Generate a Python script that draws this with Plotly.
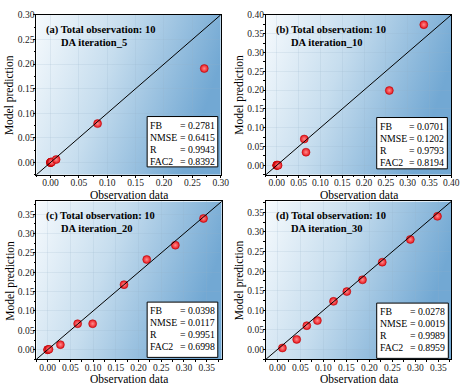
import base64
import plotly.graph_objects as go

W, H = 474, 387
FONT = "Liberation Serif"

# ---------------- data ----------------
panel_labels = ["(a)", "(b)", "(c)", "(d)"]
iteration_labels = ["DA iteration_5", "DA iteration_10", "DA iteration_20", "DA iteration_30"]
total_obs = [10, 10, 10, 10]

obs_a = [0.0, 0.0, 0.0, 0.0, 0.001, 0.001, 0.002, 0.010, 0.083, 0.271]
pred_a = [0.0, 0.0, 0.0, 0.0, 0.0, 0.001, 0.001, 0.006, 0.079, 0.191]

obs_b = [0.0, 0.0, 0.0, 0.001, 0.002, 0.003, 0.063, 0.067, 0.258, 0.337]
pred_b = [0.0, 0.0, 0.0, 0.0, 0.001, 0.0, 0.070, 0.035, 0.199, 0.374]

obs_c = [0.0, 0.0, 0.003, 0.028, 0.066, 0.099, 0.168, 0.218, 0.281, 0.343]
pred_c = [0.0, 0.0, 0.001, 0.013, 0.067, 0.067, 0.168, 0.233, 0.270, 0.339]

obs_d = [0.011, 0.042, 0.064, 0.087, 0.122, 0.151, 0.185, 0.228, 0.289, 0.348]
pred_d = [0.004, 0.026, 0.061, 0.074, 0.123, 0.148, 0.178, 0.223, 0.281, 0.340]

stat_names = ["FB", "NMSE", "R", "FAC2"]
stats_a = [0.2781, 0.6415, 0.9943, 0.8392]
stats_b = [0.0701, 0.1202, 0.9793, 0.8194]
stats_c = [0.0398, 0.0117, 0.9951, 0.6998]
stats_d = [0.0278, 0.0019, 0.9989, 0.8959]

ticks_a = [0.00, 0.05, 0.10, 0.15, 0.20, 0.25, 0.30]
ticks_b = [0.00, 0.05, 0.10, 0.15, 0.20, 0.25, 0.30, 0.35, 0.40]
ticks_c = [0.00, 0.05, 0.10, 0.15, 0.20, 0.25, 0.30, 0.35]
ticks_d = [0.00, 0.05, 0.10, 0.15, 0.20, 0.25, 0.30, 0.35]

# ---------------- layout constants ----------------
panels = [
    dict(obs=obs_a, pred=pred_a, stats=stats_a, ticks=ticks_a, rng=[-0.025, 0.30],
         px=(37, 10, 225, 172), box=(3, 8, 72, 51)),
    dict(obs=obs_b, pred=pred_b, stats=stats_b, ticks=ticks_b, rng=[-0.025, 0.40],
         px=(271, 10, 460, 172), box=(4, 6, 72, 52)),
    dict(obs=obs_c, pred=pred_c, stats=stats_c, ticks=ticks_c, rng=[-0.025, 0.383],
         px=(37, 199, 226, 359), box=(4, 2, 72, 56)),
    dict(obs=obs_d, pred=pred_d, stats=stats_d, ticks=ticks_d, rng=[-0.025, 0.378],
         px=(271, 199, 460, 359), box=(3, 1, 73, 56)),
]

svg = ('<svg xmlns="http://www.w3.org/2000/svg" width="200" height="200" '
       'viewBox="0 0 200 200" preserveAspectRatio="none">'
       '<defs><linearGradient id="g" x1="0" y1="0" x2="1" y2="0.3">'
       '<stop offset="0" stop-color="#f6fafd"/>'
       '<stop offset="0.45" stop-color="#c6ddee"/>'
       '<stop offset="1" stop-color="#72a8d3"/>'
       '</linearGradient></defs>'
       '<rect width="200" height="200" fill="url(#g)"/></svg>')
bg_src = "data:image/svg+xml;base64," + base64.b64encode(svg.encode()).decode()

fig = go.Figure()
layout = dict(width=W, height=H, margin=dict(l=0, r=0, t=0, b=0),
              paper_bgcolor="white", plot_bgcolor="white", showlegend=False,
              font=dict(family=FONT, color="black"))
annotations, shapes, images = [], [], []

for i, p in enumerate(panels):
    n = "" if i == 0 else str(i + 1)
    xa, ya = "x" + n, "y" + n
    l, t, r, b = p["px"]
    pw, ph = r - l, b - t
    ax_common = dict(range=p["rng"], tickvals=p["ticks"],
                     ticktext=[f"{v:.2f}" for v in p["ticks"]],
                     showline=True, linecolor="black", linewidth=1, mirror=True,
                     ticks="outside", ticklen=2, tickwidth=1, tickcolor="black",
                     ticklabelstandoff=-3,
                     minor=dict(ticks="outside", ticklen=1.5, tickcolor="black",
                                dtick=0.025, showgrid=False),
                     showgrid=True, gridcolor="rgba(150,175,200,0.18)", gridwidth=1,
                     zeroline=False, tickfont=dict(family=FONT, size=9.5, color="#222"),
                     fixedrange=True)
    layout["xaxis" + n] = dict(domain=[l / W, r / W], anchor=ya, **ax_common)
    layout["yaxis" + n] = dict(domain=[1 - b / H, 1 - t / H], anchor=xa, **ax_common)

    images.append(dict(source=bg_src, xref=xa + " domain", yref=ya + " domain",
                       x=0, y=1, sizex=1, sizey=1, xanchor="left", yanchor="top",
                       sizing="stretch", layer="below"))
    # 1:1 line
    shapes.append(dict(type="line", xref=xa + " domain", yref=ya + " domain",
                       x0=0, y0=0, x1=1, y1=1, line=dict(color="black", width=1)))

    fig.add_trace(go.Scatter(
        x=p["obs"], y=p["pred"], mode="markers", xaxis=xa, yaxis=ya,
        marker=dict(size=8, color="#e8141c",
                    gradient=dict(type="radial", color="#ff8c8c"),
                    line=dict(color="#b00000", width=0.5)),
        hoverinfo="x+y"))

    # panel titles
    annotations.append(dict(xref=xa + " domain", yref=ya + " domain", x=0, y=1,
                            xshift=8, yshift=-15, xanchor="left", yanchor="middle",
                            showarrow=False,
                            text=f"<b>{panel_labels[i]} Total observation: {total_obs[i]}</b>",
                            font=dict(family=FONT, size=10.5, color="black")))
    annotations.append(dict(xref=xa + " domain", yref=ya + " domain", x=0, y=1,
                            xshift=23, yshift=-27.5, xanchor="left", yanchor="middle",
                            showarrow=False, text=f"<b>{iteration_labels[i]}</b>",
                            font=dict(family=FONT, size=10.5, color="black")))
    # axis titles
    annotations.append(dict(xref=xa + " domain", yref=ya + " domain", x=0.5, y=0,
                            yshift=-20, xanchor="center", yanchor="middle",
                            showarrow=False, text="Observation data",
                            font=dict(family=FONT, size=11.5, color="black")))
    annotations.append(dict(xref=xa + " domain", yref=ya + " domain", x=0, y=0.5,
                            xshift=-26, xanchor="center", yanchor="middle", textangle=-90,
                            showarrow=False, text="Model prediction",
                            font=dict(family=FONT, size=11.5, color="black")))

    # stats box
    rm, bm, bw, bh = p["box"]
    bx1 = 1 - rm / pw
    bx0 = 1 - (rm + bw) / pw
    by0 = bm / ph
    by1 = (bm + bh) / ph
    shapes.append(dict(type="rect", xref=xa + " domain", yref=ya + " domain",
                       x0=bx0, x1=bx1, y0=by0, y1=by1, fillcolor="white",
                       line=dict(color="black", width=1), layer="above"))
    for k, (nm, val) in enumerate(zip(stat_names, p["stats"])):
        ys = -(8.5 + 12 * k)
        annotations.append(dict(xref=xa + " domain", yref=ya + " domain", x=bx0, y=by1,
                                xshift=1, yshift=ys, xanchor="left", yanchor="middle",
                                showarrow=False, text=nm,
                                font=dict(family=FONT, size=9.8, color="black")))
        annotations.append(dict(xref=xa + " domain", yref=ya + " domain", x=bx1, y=by1,
                                xshift=-1, yshift=ys, xanchor="right", yanchor="middle",
                                showarrow=False, text=f"= {val:.4f}",
                                font=dict(family=FONT, size=9.8, color="black")))

layout["annotations"] = annotations
layout["shapes"] = shapes
layout["images"] = images
fig.update_layout(**layout)
fig.write_html("out.html", config={"displayModeBar": False},
               post_script="document.body.style.margin='0';document.body.style.padding='0';")
